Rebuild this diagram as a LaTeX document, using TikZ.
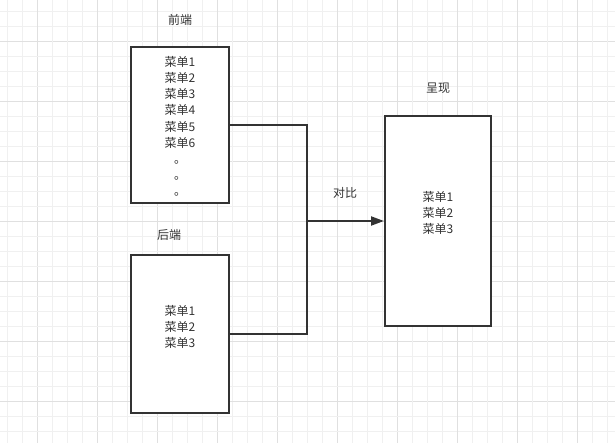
\documentclass[tikz,border=0pt]{standalone}
\usepackage{fontspec}
\setmainfont{Noto Sans CJK SC}
\usepackage{xcolor}
\usepackage{tikz}
\usetikzlibrary{positioning,arrows.meta,calc}
\definecolor{ink}{HTML}{333333}
\definecolor{gridminor}{HTML}{F0F0F0}
\definecolor{gridmajor}{HTML}{E0E0E0}

\begin{document}
\begin{tikzpicture}[
    x=1pt,y=-1pt,
    box/.style={draw=ink,line width=2pt,fill=white,inner sep=0pt},
    menu/.style={align=center,text=ink,font=\fontsize{12}{16.2}\selectfont,inner sep=0pt},
    title/.style={text=ink,font=\fontsize{12}{14}\selectfont,inner sep=0pt},
    link/.style={draw=ink,line width=2pt},
    arrow/.style={link,-{Triangle[length=13pt,width=9pt]}}
  ]
    \useasboundingbox (0,0) rectangle (615,443);
    % background grid
    \fill[white] (0,0) rectangle (615,443);
    \begin{scope}
      \clip (0,0) rectangle (615,443);
      \foreach \k in {0,...,40} {
        \pgfmathtruncatemacro{\m}{mod(\k,4)}
        \ifnum\m=2
          \draw[gridmajor,line width=0.8pt] ({7.3+15*\k},0) -- ({7.3+15*\k},443);
          \draw[gridmajor,line width=0.8pt] (0,{11.7+15*\k}) -- (615,{11.7+15*\k});
        \else
          \draw[gridminor,line width=0.8pt] ({7.3+15*\k},0) -- ({7.3+15*\k},443);
          \draw[gridminor,line width=0.8pt] (0,{11.7+15*\k}) -- (615,{11.7+15*\k});
        \fi
      }
    \end{scope}

    % boxes
    \node[box,minimum width=98pt,minimum height=156pt] (front) at (180,125) {};
    \node[box,minimum width=98pt,minimum height=157pt] (back) at (180,334) {};
    \node[box,minimum width=106pt,minimum height=209pt] (show) at (438,221) {};

    % titles
    \node[title,above=20pt of front] (fronttitle) {前端};
    \node[title,above=14pt of back,xshift=-11pt] (backtitle) {后端};
    \node[title,above=22pt of show] (showtitle) {呈现};

    % menu entries
    \node[menu] (frontmenu) at ([yshift=-1.5pt]front.center) {
      菜单1\\菜单2\\菜单3\\菜单4\\菜单5\\菜单6\\。\\。\\。
    };
    \node[menu] (backmenu) at ([yshift=7pt]back.center) {菜单1\\菜单2\\菜单3};
    \node[menu] (showmenu) at ([yshift=8pt]show.center) {菜单1\\菜单2\\菜单3};

    % connectors
    \coordinate (join) at (307,221);
    \draw[link] (front.east) -| (join);
    \draw[link] (back.east) -| (join);
    \draw[arrow] (join) -- (show.west);
    \node[title] (compare) at (345,193) {对比};
  \end{tikzpicture}
\end{document}
